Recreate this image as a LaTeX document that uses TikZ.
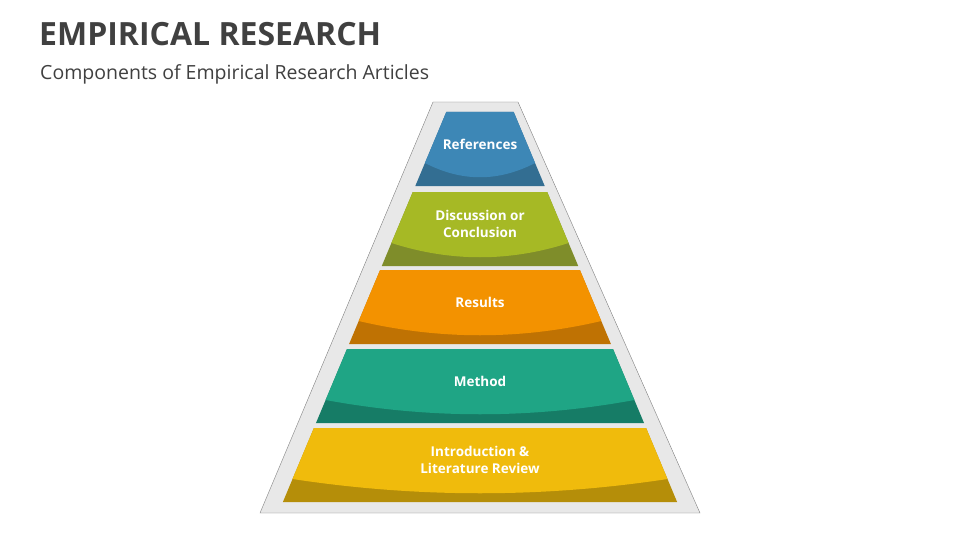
\documentclass[tikz,border=0pt]{standalone}
\usepackage{fontspec}
\setmainfont{Open Sans}
\definecolor{titlegray}{HTML}{404040}
\definecolor{framegray}{HTML}{E8E8E8}
\definecolor{refblue}{HTML}{3D87B6}
\definecolor{refbluedk}{HTML}{336E92}
\definecolor{disgreen}{HTML}{A6B925}
\definecolor{disgreendk}{HTML}{7F8D2A}
\definecolor{resorange}{HTML}{F39200}
\definecolor{resorangedk}{HTML}{BF7203}
\definecolor{metteal}{HTML}{1FA585}
\definecolor{mettealdk}{HTML}{167C66}
\definecolor{intyellow}{HTML}{F0BB0C}
\definecolor{intyellowdk}{HTML}{B58E09}
\begin{document}
\begin{tikzpicture}[x=1pt,y=-1pt,
  label/.style={text=white,font=\fontsize{13.5}{17}\selectfont\bfseries,align=center}]

    \useasboundingbox (0,0) rectangle (960,540);
    \node[anchor=base west,text=titlegray,font=\fontsize{32}{36}\selectfont\bfseries,inner sep=0] (title) at (39,46) {EMPIRICAL RESEARCH};
    \node[anchor=base west,text=titlegray,font=\fontsize{19.5}{22}\selectfont,inner sep=0] (subtitle) at (40,80) {Components of Empirical Research Articles};

    % frame
    \draw[fill=framegray,draw=gray] (433,102) -- (518,102) -- (700,513) -- (260,513) -- cycle;

    % bands
    \foreach \yt/\col/\dk/\txt [count=\i] in {112/refblue/refbluedk/References,
        192/disgreen/disgreendk/{Discussion or\\Conclusion},
        270/resorange/resorangedk/Results,
        349/metteal/mettealdk/Method,
        428/intyellow/intyellowdk/{Introduction \&\\Literature Review}} {
      \pgfmathsetmacro\yb{\yt+74}
      \pgfmathsetmacro\ym{\yt+51}
      \pgfmathsetmacro\yc{\yt+70}
      \pgfmathsetmacro\xlt{347-0.419*(\yt-349)}
      \pgfmathsetmacro\xrt{960-\xlt}
      \pgfmathsetmacro\xlb{347-0.419*(\yb-349)}
      \pgfmathsetmacro\xrb{960-\xlb}
      \pgfmathsetmacro\xlm{347-0.419*(\ym-349)}
      \pgfmathsetmacro\xrm{960-\xlm}
      \pgfmathsetmacro\xca{\xlm+(\xrm-\xlm)/3}
      \pgfmathsetmacro\xcb{\xrm-(\xrm-\xlm)/3}
      \fill[\dk] (\xlt,\yt) -- (\xrt,\yt) -- (\xrb,\yb) -- (\xlb,\yb) -- cycle;
      \fill[\col] (\xlt,\yt) -- (\xrt,\yt) -- (\xrm,\ym)
        .. controls (\xcb,\yc) and (\xca,\yc) .. (\xlm,\ym) -- cycle;
      \node[label] (band\i) at (480,\yt+32) {\txt};
    }

\end{tikzpicture}
\end{document}
